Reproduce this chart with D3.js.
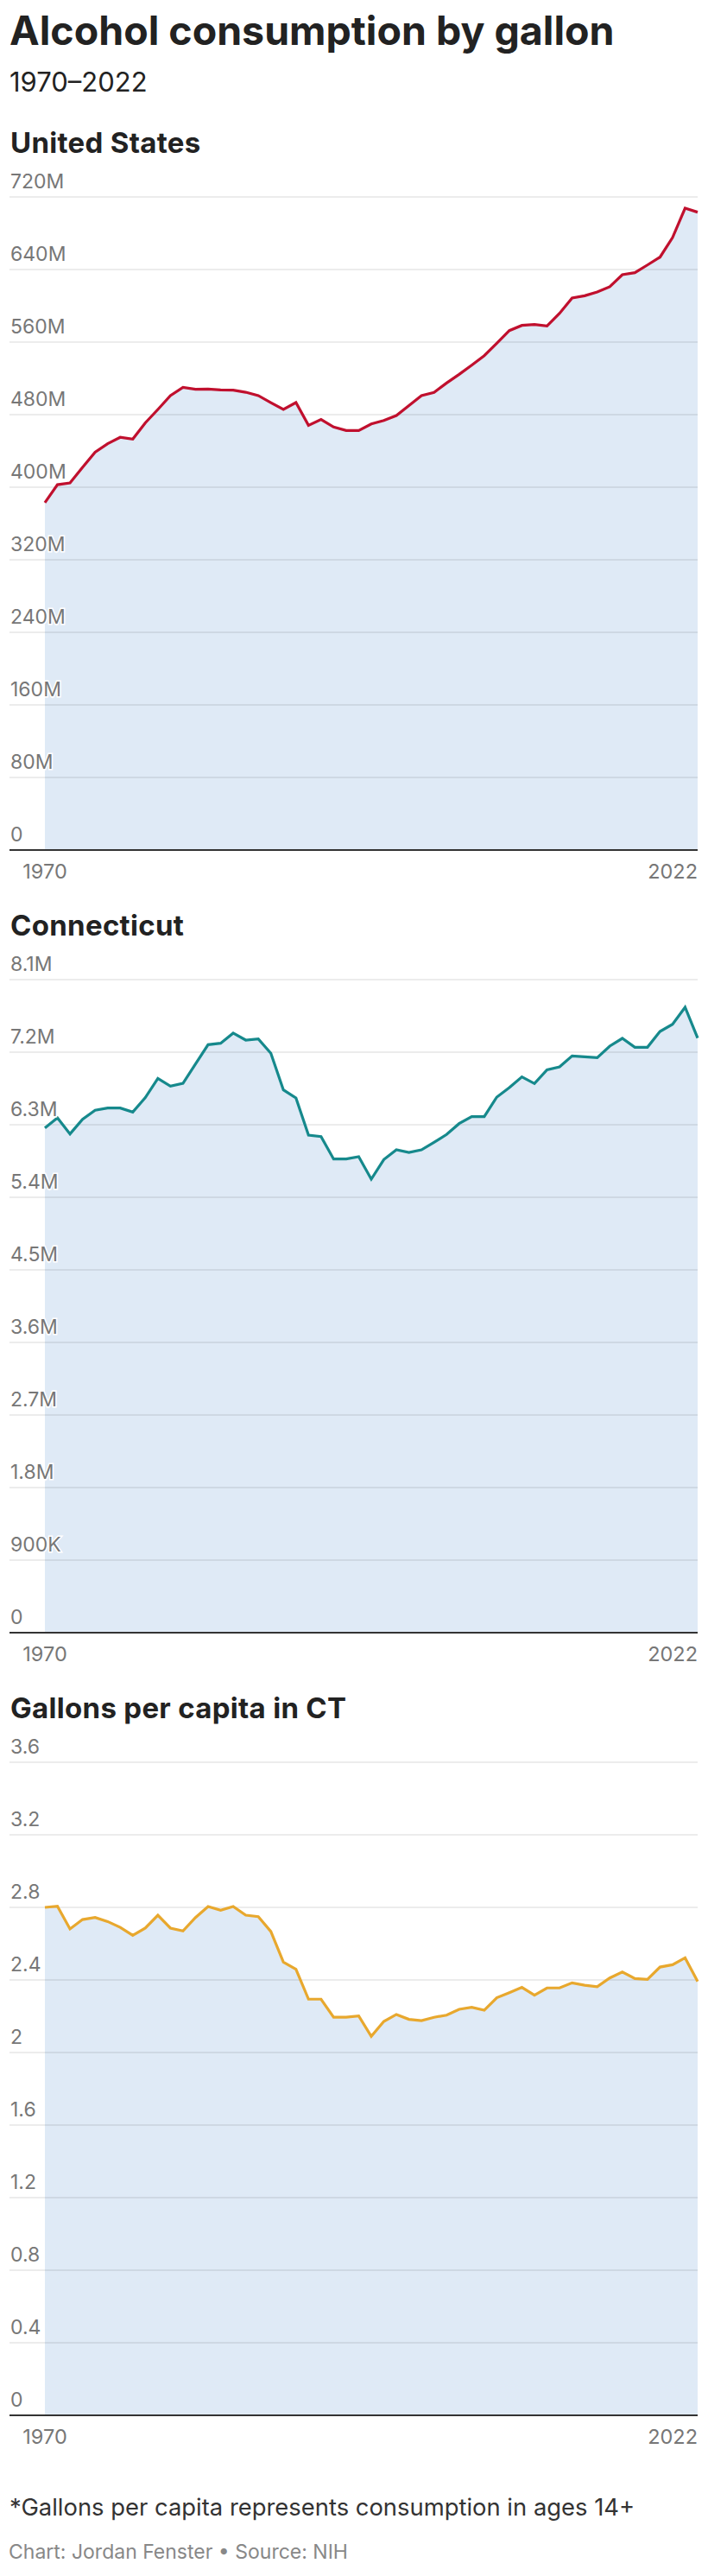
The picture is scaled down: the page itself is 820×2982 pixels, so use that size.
<!DOCTYPE html>
<meta charset="utf-8">
<script src="https://cdn.jsdelivr.net/npm/d3@7"></script>
<style>
  body { margin: 0; background: #fff; }
  text { font-family: Inter, "Noto Sans", sans-serif; }
</style>
<div id="chart"></div>

<script>

// years on the x axis
const years = [1970, 1971, 1972, 1973, 1974, 1975, 1976, 1977, 1978, 1979,
  1980, 1981, 1982, 1983, 1984, 1985, 1986, 1987, 1988, 1989,
  1990, 1991, 1992, 1993, 1994, 1995, 1996, 1997, 1998, 1999,
  2000, 2001, 2002, 2003, 2004, 2005, 2006, 2007, 2008, 2009,
  2010, 2011, 2012, 2013, 2014, 2015, 2016, 2017, 2018, 2019,
  2020, 2021, 2022];

// United States, millions of gallons
const usGallons = [383, 402.8, 404.7, 422, 438.7, 448, 455, 453, 471, 485.7,
  501, 510, 508, 508.2, 507.3, 507, 504.7, 501, 493.3, 485.7,
  493.3, 468.2, 474.6, 466.3, 462.5, 462.5, 469.8, 473.6, 479, 490,
  501, 504.4, 514.9, 524.4, 534.6, 545, 558.7, 572.7, 578.4, 579.4,
  577.8, 591.7, 608.6, 611.1, 615.2, 621, 634.3, 636.5, 645, 653.6,
  675.2, 707.6, 703.2];

// Connecticut, millions of gallons
const ctGallons = [6.261, 6.386, 6.186, 6.368, 6.479, 6.507, 6.507, 6.457, 6.636, 6.875,
  6.779, 6.814, 7.054, 7.293, 7.311, 7.436, 7.350, 7.364, 7.186, 6.732,
  6.632, 6.171, 6.154, 5.875, 5.875, 5.904, 5.625, 5.868, 5.989, 5.957,
  5.989, 6.082, 6.179, 6.314, 6.400, 6.400, 6.643, 6.761, 6.893, 6.811,
  6.982, 7.018, 7.154, 7.143, 7.132, 7.275, 7.371, 7.261, 7.261, 7.457,
  7.546, 7.757, 7.375];

// gallons per capita in CT (ages 14+)
const ctPerCapita = [2.80, 2.806, 2.681, 2.733, 2.744, 2.722, 2.690, 2.646, 2.686, 2.757,
  2.686, 2.670, 2.744, 2.805, 2.784, 2.805, 2.757, 2.749, 2.667, 2.498,
  2.459, 2.294, 2.294, 2.195, 2.195, 2.202, 2.089, 2.171, 2.210, 2.183,
  2.176, 2.194, 2.206, 2.238, 2.249, 2.233, 2.302, 2.330, 2.359, 2.316,
  2.356, 2.356, 2.384, 2.371, 2.363, 2.411, 2.444, 2.408, 2.403, 2.471,
  2.484, 2.522, 2.392];

// y tick values and their labels
const usTicks = [0, 80, 160, 240, 320, 400, 480, 560, 640, 720];
const usTickLabels = ["0", "80M", "160M", "240M", "320M", "400M", "480M", "560M", "640M", "720M"];
const ctTicks = [0, 0.9, 1.8, 2.7, 3.6, 4.5, 5.4, 6.3, 7.2, 8.1];
const ctTickLabels = ["0", "900K", "1.8M", "2.7M", "3.6M", "4.5M", "5.4M", "6.3M", "7.2M", "8.1M"];
const pcTicks = [0, 0.4, 0.8, 1.2, 1.6, 2, 2.4, 2.8, 3.2, 3.6];
const pcTickLabels = ["0", "0.4", "0.8", "1.2", "1.6", "2", "2.4", "2.8", "3.2", "3.6"];
const xTickYears = [1970, 2022];

const width = 820, height = 2982;
const plotLeft = 52, plotRight = 808, gridLeft = 11;
const plotHeight = 756;

const svg = d3.select("#chart")
  .append("svg")
  .attr("width", width)
  .attr("height", height);

// header
svg.append("text")
  .attr("x", 11).attr("y", 52)
  .attr("font-size", 46.5).attr("font-weight", 700)
  .attr("fill", "#222")
  .text("Alcohol consumption by gallon");

svg.append("text")
  .attr("x", 11).attr("y", 106)
  .attr("font-size", 31)
  .attr("fill", "#222")
  .text("1970–2022");

const x = d3.scaleLinear()
  .domain([1970, 2022])
  .range([plotLeft, plotRight]);

function drawChart(title, top, values, ticks, tickLabels, color) {
  const g = svg.append("g");
  const y = d3.scaleLinear()
    .domain([0, d3.max(ticks)])
    .range([top + plotHeight, top]);

  const data = years.map((yr, i) => ({year: yr, value: values[i]}));

  g.append("text")
    .attr("x", 12).attr("y", top - 51)
    .attr("font-size", 33).attr("font-weight", 700)
    .attr("letter-spacing", "0.3")
    .attr("fill", "#222")
    .text(title);

  // area under the line
  g.append("path")
    .datum(data)
    .attr("fill", "#dfeaf6")
    .attr("d", d3.area()
      .x(d => x(d.year))
      .y0(y(0))
      .y1(d => y(d.value)));

  // gridlines
  g.append("g")
    .selectAll("line")
    .data(ticks.filter(t => t > 0))
    .join("line")
      .attr("x1", gridLeft).attr("x2", plotRight)
      .attr("y1", d => y(d)).attr("y2", d => y(d))
      .attr("stroke", "rgba(0,0,0,0.1)")
      .attr("stroke-width", 1.6);

  g.append("path")
    .datum(data)
    .attr("fill", "none")
    .attr("stroke", color)
    .attr("stroke-width", 3.2)
    .attr("d", d3.line()
      .x(d => x(d.year))
      .y(d => y(d.value)));

  // y labels sit above their gridline
  g.append("g")
    .selectAll("text")
    .data(ticks)
    .join("text")
      .attr("x", 12)
      .attr("y", d => y(d) - 10)
      .attr("font-size", 23)
      .attr("fill", "#777")
      .attr("stroke", "#fff")
      .attr("stroke-width", 3)
      .attr("paint-order", "stroke")
      .text((d, i) => tickLabels[i]);

  // baseline
  g.append("line")
    .attr("x1", gridLeft).attr("x2", plotRight)
    .attr("y1", y(0)).attr("y2", y(0))
    .attr("stroke", "#333")
    .attr("stroke-width", 2);

  g.append("g")
    .selectAll("text")
    .data(xTickYears)
    .join("text")
      .attr("x", d => d === 2022 ? plotRight : x(d))
      .attr("y", y(0) + 33)
      .attr("text-anchor", d => d === 2022 ? "end" : "middle")
      .attr("font-size", 23.5)
      .attr("fill", "#777")
      .text(d => d);
}

drawChart("United States", 228, usGallons, usTicks, usTickLabels, "#c0102e");
drawChart("Connecticut", 1134, ctGallons, ctTicks, ctTickLabels, "#16898c");
drawChart("Gallons per capita in CT", 2040, ctPerCapita, pcTicks, pcTickLabels, "#e8a82e");

// footer
svg.append("text")
  .attr("x", 11).attr("y", 2912)
  .attr("font-size", 27.4)
  .attr("fill", "#333")
  .text("*Gallons per capita represents consumption in ages 14+");

svg.append("text")
  .attr("x", 10).attr("y", 2962)
  .attr("font-size", 23)
  .attr("fill", "#888")
  .text("Chart: Jordan Fenster • Source: NIH");

</script>
